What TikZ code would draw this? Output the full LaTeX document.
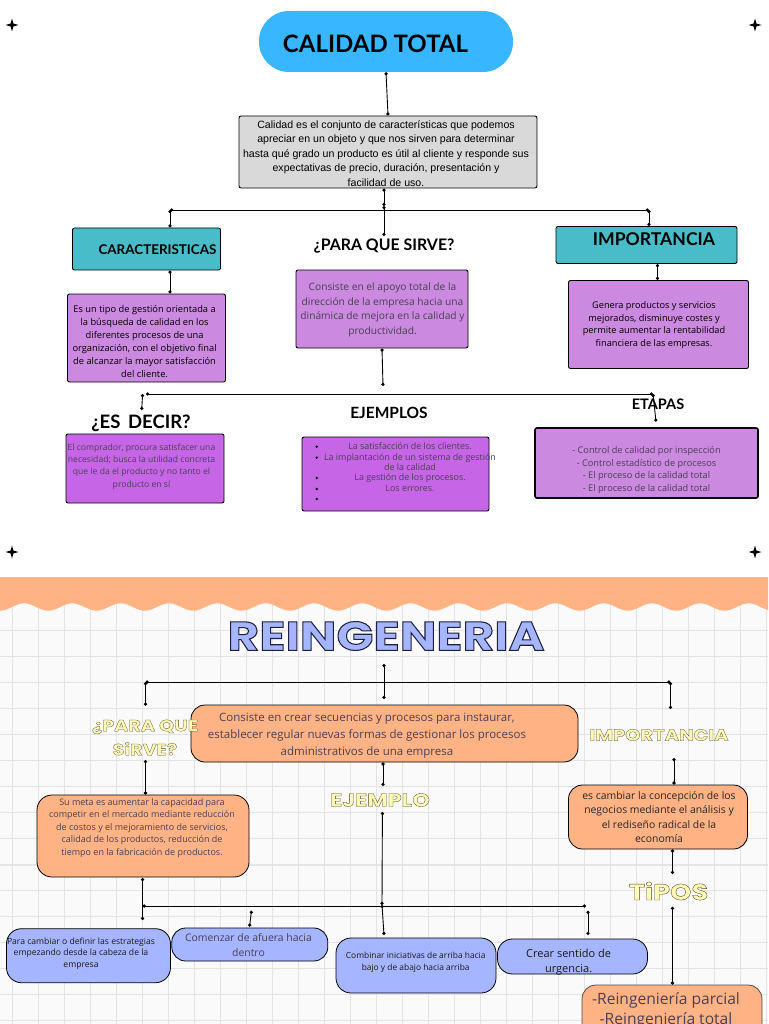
\documentclass[tikz,border=0pt]{standalone}
\usepackage{fontspec}
\usepackage{xcolor}
\usepackage{tikz}
\usetikzlibrary{arrows.meta}
\usetikzlibrary{shapes.geometric}
\setmainfont{Open Sans}
\newfontfamily\arialfont{Liberation Sans}
\newfontfamily\headfont{Lato}
\newfontfamily\fatfont[FakeStretch=1.2,FakeBold=2.6]{Poppins}
\newfontfamily\fatthin[FakeStretch=1.2,FakeBold=1.6]{Poppins}
\definecolor{skyblue}{HTML}{38B6FF}
\definecolor{greybox}{HTML}{D9D9D9}
\definecolor{tealbox}{HTML}{48BDC9}
\definecolor{lilacbox}{HTML}{CB89E0}
\definecolor{violetbox}{HTML}{C666E6}
\definecolor{peachbox}{HTML}{FFB385}
\definecolor{bluebox}{HTML}{A6B5FF}
\definecolor{paleyellow}{HTML}{FFF9B5}
\definecolor{softink}{HTML}{4A3F55}
\newcommand{\fsize}[2]{\fontsize{#1}{#2}\selectfont}
\newcommand{\bigout}[1]{\textcolor{bluebox}{\special{pdf:code 0.12 0.12 0.25 RG}#1}}
\newcommand{\yellowout}[1]{\textcolor{paleyellow}{\special{pdf:code 0.3 0.3 0.15 RG}#1}}
\tikzstyle{sqbox} = [draw=black, line width=0.9pt, rounded corners=2pt, align=center, inner sep=0pt]
\tikzstyle{softbox} = [draw=black, line width=0.8pt, rounded corners=14pt, align=center, inner sep=0pt]
\tikzstyle{txt} = [align=center, inner sep=0pt]
\tikzstyle{dotline} = [line width=0.9pt, {Circle[length=3.2pt]}-{Circle[length=3.2pt]}]
\tikzstyle{gridline} = [black!11, line width=0.6pt]
\tikzstyle{sparkle} = [star, star points=4, star point ratio=3.2, fill=black, inner sep=0pt, minimum size=13pt]
\begin{document}
\begin{tikzpicture}[x=1pt,y=-1pt]
    \useasboundingbox (0,0) rectangle (768,1024);
    % top page corners
    \foreach \sx/\sy [count=\i] in {12/25,755/25,12/552,755/552}
        \node [sparkle] (spark\i) at (\sx,\sy) {};
    % calidad total
    \node [fill=skyblue, rounded corners=30pt, minimum width=254pt, minimum height=61pt, inner sep=0pt] (title) at (386,41.5) {};
    \node [txt, font=\headfont\bfseries\fsize{24}{26}] (titletext) at (375.5,44) {CALIDAD TOTAL};
    \node [sqbox, fill=greybox, minimum width=298pt, minimum height=72pt] (defbox) at (388,152) {};
    \node [txt, font=\arialfont\fsize{10.6}{14.5}] (deftext) at (386,153.5) {Calidad es el conjunto de características que podemos\\apreciar en un objeto y que nos sirven para determinar\\hasta qué grado un producto es útil al cliente y responde sus\\expectativas de precio, duración, presentación y\\facilidad de uso.};
    \node [sqbox, fill=tealbox, minimum width=148pt, minimum height=42pt] (carbox) at (146.5,249) {};
    \node [txt, font=\headfont\bfseries\fsize{13.4}{15}] (cartext) at (157.5,250) {CARACTERISTICAS};
    \node [sqbox, fill=tealbox, minimum width=181pt, minimum height=37pt] (impbox) at (646.5,245) {};
    \node [txt, font=\headfont\bfseries\fsize{17.6}{19}] (imptext) at (654,239) {IMPORTANCIA};
    \node [txt, font=\headfont\bfseries\fsize{15.9}{18}] (sirve) at (384,246) {¿PARA QUE SIRVE?};
    \node [sqbox, fill=lilacbox, minimum width=158pt, minimum height=88pt] (carinfo) at (146.5,338) {};
    \node [txt, font=\fsize{9.3}{13}] (cartxt) at (144.6,341.5) {Es un tipo de gestión orientada a\\la búsqueda de calidad en los\\diferentes procesos de una\\organización, con el objetivo final\\de alcanzar la mayor satisfacción\\del cliente.};
    \node [sqbox, fill=lilacbox, minimum width=172pt, minimum height=78pt] (sirveinfo) at (382,309) {};
    \node [txt, font=\fsize{10.2}{14.6}, text=softink] (sirvetxt) at (382.5,310) {Consiste en el apoyo total de la\\dirección de la empresa hacia una\\dinámica de mejora en la calidad y\\productividad.};
    \node [sqbox, fill=lilacbox, minimum width=180pt, minimum height=88pt] (impinfo) at (658.5,324.5) {};
    \node [txt, font=\fsize{9.2}{12.7}] (imptxt) at (654,325) {Genera productos y servicios\\mejorados, disminuye costes y\\permite aumentar la rentabilidad\\financiera de las empresas.};
    % segunda fila
    \node [txt, font=\headfont\bfseries\fsize{18.5}{20}] (decir) at (141,423) {¿ES\, DECIR?};
    \node [txt, font=\headfont\bfseries\fsize{15.5}{18}] (ejemplos) at (389,413) {EJEMPLOS};
    \node [txt, font=\headfont\bfseries\fsize{14.5}{16}] (etapas) at (658,404) {ETAPAS};
    \node [sqbox, fill=violetbox, minimum width=158pt, minimum height=69pt] (decirinfo) at (145,468.5) {};
    \node [txt, font=\fsize{8.6}{12.4}, text=softink] (decirtxt) at (141.5,466.5) {El comprador, procura satisfacer una\\necesidad; busca la utilidad concreta\\que le da el producto y no tanto el\\producto en sí};
    \node [sqbox, fill=violetbox, minimum width=187pt, minimum height=74pt] (ejinfo) at (395.5,474) {};
    \foreach \by [count=\i] in {446.7,457.7,478,489,499}
        \node [circle, fill=black, inner sep=0pt, minimum size=2.6pt] (bullet\i) at (316.7,\by) {};
    \node [txt, font=\fsize{8.9}{10.7}, text=softink] (ejone) at (410,446) {La satisfacción de los clientes.};
    \node [txt, font=\fsize{8.9}{10}, text=softink] (ejtwo) at (410,462) {La implantación de un sistema de gestión\\de la calidad};
    \node [txt, font=\fsize{8.9}{10.7}, text=softink] (ejthree) at (410,478) {La gestión de los procesos.};
    \node [txt, font=\fsize{8.9}{10.7}, text=softink] (ejfour) at (410,488.5) {Los errores.};
    \node [sqbox, fill=lilacbox, line width=1.6pt, minimum width=223pt, minimum height=70pt] (etinfo) at (646.5,463) {};
    \node [txt, font=\fsize{9.2}{12.7}, text=softink] (ettxt) at (646.5,470) {- Control de calidad por inspección\\- Control estadístico de procesos\\- El proceso de la calidad total\\- El proceso de la calidad total};
    % conectores de arriba
    \coordinate (topmid) at (384,206);
    \coordinate (topleft) at (170,210);
    \coordinate (topright) at (649,210);
    \coordinate (sirveend) at (384,236);
    \draw [dotline] (title.south) -- (defbox.north);
    \draw [dotline] (defbox.south -| topmid) -- (topmid);
    \draw [dotline] (topleft) -- (topright);
    \draw [dotline] (topmid) -- (sirveend);
    \draw [dotline] (topleft) -- (carbox.north -| topleft);
    \draw [dotline] (topright) -- (impbox.north -| topright);
    \draw [dotline] (carbox.south -| topleft) -- (carinfo.north -| topleft);
    \coordinate (impdrop) at (657.5,280);
    \draw [dotline] (impbox.south -| impdrop) -- (impinfo.north -| impdrop);
    \coordinate (midend) at (383,386);
    \coordinate (lowleft) at (146,394);
    \coordinate (lowright) at (653,394);
    \coordinate (decirstart) at (142.6,394);
    \coordinate (decirend) at (141.7,410);
    \coordinate (etapasend) at (656,421.7);
    \draw [dotline] (sirveinfo.south) -- (midend);
    \draw [dotline] (lowleft) -- (lowright);
    \draw [dotline] (decirstart) -- (decirend);
    \draw [dotline] (lowright) -- (etapasend);
    % reingenieria
    \fill [white!98!black] (0,577) rectangle (768,1024);
    \foreach \k in {0,...,29}
        \draw [gridline] ({12.7+26*\k},600) -- ({12.7+26*\k},1024);
    \foreach \k in {0,...,15}
        \draw [gridline] (0,{630.7+26*\k}) -- (768,{630.7+26*\k});
    \draw [black!10, line width=2pt] (0,865) -- (768,865);
    \fill [peachbox] (0,577) -- (768,577) -- plot [domain=768:0, samples=260] (\x,{607+3.7*cos(\x/48.3*360)}) -- cycle;
    \node [txt, font=\fatfont\bfseries\fsize{40.5}{44}] (retitle) at (386,636) {\bigout{REINGENERIA}};
    \node [softbox, fill=peachbox, minimum width=387pt, minimum height=57pt] (rebox) at (384.5,733.5) {};
    \node [txt, font=\fatthin\bfseries\fsize{16}{24}] (reuse) at (145,737.5) {\yellowout{¿PARA QUE}\\\yellowout{SiRVE?}};
    \node [txt, font=\fatthin\bfseries\fsize{16.2}{18}] (reimp) at (659,735) {\yellowout{IMPORTANCIA}};
    \node [txt, font=\fatthin\bfseries\fsize{18.6}{20}] (reej) at (380,800) {\yellowout{EJEMPLO}};
    \node [txt, font=\fatthin\bfseries\fsize{22.7}{25}] (retipos) at (668.6,891) {\yellowout{TiPOS}};
    \node [txt, font=\fsize{11.5}{17}, text=softink] (retxt) at (367,736) {Consiste en crear secuencias y procesos para instaurar,\\establecer regular nuevas formas de gestionar los procesos\\administrativos de una empresa};
    \node [softbox, fill=peachbox, minimum width=212pt, minimum height=82pt, rounded corners=15pt] (metabox) at (143,836) {};
    \node [txt, font=\fsize{9}{12.4}, text=softink] (metatxt) at (142,828) {Su meta es aumentar la capacidad para\\competir en el mercado mediante reducción\\de costos y el mejoramiento de servicios,\\calidad de los productos, reducción de\\tiempo en la fabricación de productos.};
    \node [softbox, fill=peachbox, minimum width=179pt, minimum height=64pt] (cambiobox) at (658,817) {};
    \node [txt, font=\fsize{10.4}{14.4}, text=black!85] (cambiotxt) at (659,817) {es cambiar la concepción de los\\negocios mediante el análisis y\\el rediseño radical de la\\economía};
    \node [softbox, fill=peachbox, draw=black!70, minimum width=180pt, minimum height=70pt] (tipobox) at (672,1020) {};
    \node [txt, font=\fsize{15.6}{20}, text=softink] (tipotxt) at (666,1010) {-Reingeniería parcial\\-Reingeniería total};
    \node [softbox, fill=bluebox, minimum width=164pt, minimum height=54pt, rounded corners=15pt] (blueone) at (88.5,955.7) {};
    \node [txt, font=\fsize{8.6}{11.5}, text=black!90] (blueonetxt) at (81,953.5) {Para cambiar o definir las estrategias\\empezando desde la cabeza de la\\empresa};
    \node [softbox, fill=bluebox, minimum width=156pt, minimum height=33pt] (bluetwo) at (249.8,944.5) {};
    \node [txt, font=\fsize{10.4}{14.5}, text=softink] (bluetwotxt) at (248.5,945) {Comenzar de afuera hacia\\dentro};
    \node [softbox, fill=bluebox, minimum width=160pt, minimum height=55pt, rounded corners=15pt] (bluethree) at (416,965.5) {};
    \node [txt, font=\fsize{8.4}{12}, text=black!90] (bluethreetxt) at (415.7,962) {Combinar iniciativas de arriba hacia\\bajo y de abajo hacia arriba};
    \node [softbox, fill=bluebox, minimum width=150pt, minimum height=35pt, rounded corners=15pt] (bluefour) at (572.5,956.5) {};
    \node [txt, font=\fsize{11}{15}, text=black!90] (bluefourtxt) at (568.6,962) {Crear sentido de\\urgencia.};
    % conectores de abajo
    \coordinate (retop) at (384,664);
    \coordinate (rebelow) at (384,699);
    \coordinate (bleft) at (145.5,682);
    \coordinate (bright) at (670.5,682);
    \coordinate (bleftend) at (145.5,705.7);
    \coordinate (brightend) at (670.5,709);
    \coordinate (usestart) at (145.5,760);
    \coordinate (ejend) at (383,786);
    \coordinate (impstart) at (674,758);
    \coordinate (tipoend) at (672.5,874);
    \coordinate (tipostart) at (672.5,906.7);
    \coordinate (metadown) at (142.6,878);
    \coordinate (metaend) at (142.6,920);
    \coordinate (splitl) at (142.6,906);
    \coordinate (splitr) at (586,906);
    \coordinate (ejstart) at (382.4,812);
    \coordinate (splitm) at (382,905);
    \coordinate (threeend) at (384,935);
    \coordinate (twostart) at (251.5,910.7);
    \coordinate (twoend) at (249.5,926.7);
    \coordinate (fourstart) at (588,910.7);
    \coordinate (fourend) at (588,935);
    \draw [dotline] (retop) -- (rebelow);
    \draw [dotline] (bleft) -- (bright);
    \draw [dotline] (bleft) -- (bleftend);
    \draw [dotline] (bright) -- (brightend);
    \draw [dotline] (usestart) -- (metabox.north -| usestart);
    \draw [dotline] (rebox.south -| ejend) -- (ejend);
    \draw [dotline] (impstart) -- (cambiobox.north -| impstart);
    \draw [dotline] (cambiobox.south -| tipoend) -- (tipoend);
    \draw [dotline] (tipostart) -- (tipobox.north -| tipostart);
    \draw [dotline] (metadown) -- (metaend);
    \draw [dotline] (splitl) -- (splitr);
    \draw [dotline] (ejstart) -- (splitm);
    \draw [dotline] (splitm) -- (threeend);
    \draw [dotline] (twostart) -- (twoend);
    \draw [dotline] (fourstart) -- (fourend);
\end{tikzpicture}
\end{document}
